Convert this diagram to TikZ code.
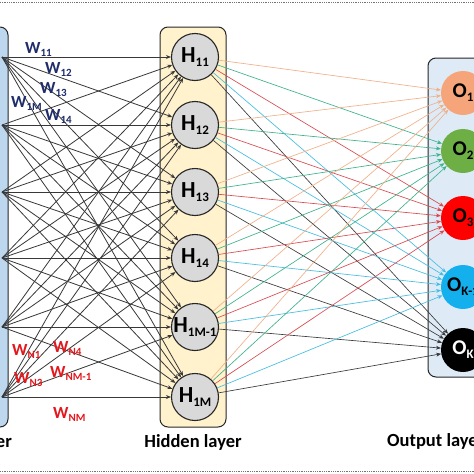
\documentclass[tikz,border=0pt]{standalone}
\usepackage{fontspec}
\setmainfont{Carlito}
\usetikzlibrary{arrows.meta}
\definecolor{inblue}{HTML}{BDD7EE}
\definecolor{hidyel}{HTML}{FFF2CC}
\definecolor{outbg}{HTML}{DEEBF7}
\definecolor{hidgray}{HTML}{D9D9D9}
\definecolor{o1c}{HTML}{F6A57A}
\definecolor{o2c}{HTML}{6DAF45}
\definecolor{o3c}{HTML}{FF0000}
\definecolor{o4c}{HTML}{14B0EE}
\definecolor{o5c}{HTML}{000000}
\definecolor{e1}{HTML}{F0B08A}
\definecolor{e2}{HTML}{3DB38A}
\definecolor{e3}{HTML}{D94A50}
\definecolor{e4}{HTML}{45BDE0}
\definecolor{e5}{HTML}{3A3A3A}
\definecolor{wnavy}{HTML}{1F2D6B}
\definecolor{wred}{HTML}{E3171C}
\newcommand{\hsb}[1]{\raisebox{-4pt}{\fontsize{13}{13}\selectfont #1}}
\newcommand{\osb}[1]{\raisebox{-4pt}{\fontsize{13}{13}\selectfont #1}}
\newcommand{\wsb}[1]{\raisebox{-3.5pt}{\fontsize{11}{11}\selectfont #1}}
\begin{document}
\begin{tikzpicture}[x=1pt,y=-1pt,
  hid/.style={circle, draw=black!85, line width=1.1pt, fill=hidgray, minimum size=47pt, inner sep=0pt, font=\bfseries\fontsize{23}{23}\selectfont},
  outn/.style={circle, minimum size=44pt, inner sep=0pt, font=\bfseries\fontsize{21}{21}\selectfont},
  layerbox/.style={draw=black!85, line width=1pt, rounded corners=8pt},
  ihedge/.style={draw=black!78, line width=0.8pt, -{Stealth[length=5pt,width=4pt]}},
  hoedge/.style={line width=0.65pt, -{Stealth[length=5pt,width=4pt]}},
  lab/.style={font=\bfseries\fontsize{18.5}{18.5}\selectfont, inner sep=0pt},
  wlab/.style={font=\bfseries\fontsize{17}{17}\selectfont, inner sep=0pt, anchor=base west},
  frame/.style={draw=black!55, densely dotted, line width=0.8pt}
]
\useasboundingbox (0,0) rectangle (474,474);
\clip (0,0) rectangle (474,474);
\fill[white] (0,0) rectangle (474,474);
\draw[frame] (0,2) -- (474,2);
\draw[frame] (0,471) -- (474,471);
% layer boxes
\draw[layerbox, fill=inblue] (-40,27) rectangle (8,427);
\draw[layerbox, fill=hidyel] (160,27) rectangle (226,427);
\draw[layerbox, fill=outbg] (428,58) rectangle (500,377);
% input coordinates and hidden nodes
\foreach \y/\l [count=\i] in {57/11,125/12,192/13,258/14,327/1M-1,397/1M} {
  \coordinate (in\i) at (2,\y);
  \node[hid] (h\i) at (195,\y) {H\hsb{\l}};
}
% output nodes
\node[outn, fill=o1c, text=black] (o1) at (463,93) {O\osb{1}};
\node[outn, fill=o2c, text=black] (o2) at (463,151) {O\osb{2}};
\node[outn, fill=o3c, text=black] (o3) at (463,218) {O\osb{3}};
\node[outn, fill=o4c, text=black] (o4) at (463,287) {O\osb{K-1}};
\node[outn, fill=o5c, text=white] (o5) at (463,350) {O\osb{K}};
% edges
\foreach \i in {1,...,6} {
  \foreach \j in {1,...,6} {
    \draw[ihedge] (in\i) -- (h\j);
  }
}
\foreach \i in {1,...,6} {
  \foreach \k in {1,...,5} {
    \draw[hoedge, color=e\k] (h\i) -- (o\k);
  }
}
% weight labels
\node[wlab, text=wnavy] (w11) at (25,53) {W\wsb{11}};
\node[wlab, text=wnavy] (w12) at (45,73) {W\wsb{12}};
\node[wlab, text=wnavy] (w13) at (40,93) {W\wsb{13}};
\node[wlab, text=wnavy] (w1m) at (11,107) {W\wsb{1M}};
\node[wlab, text=wnavy] (w14) at (45,120) {W\wsb{14}};
\node[wlab, text=wred] (wn1) at (12,355) {W\wsb{N1}};
\node[wlab, text=wred] (wn4) at (53,352) {W\wsb{N4}};
\node[wlab, text=wred] (wn3) at (14,383) {W\wsb{N3}};
\node[wlab, text=wred] (wnm1) at (50,377) {W\wsb{NM-1}};
\node[wlab, text=wred] (wnm) at (53,418) {W\wsb{NM}};
% layer labels
\node[lab, anchor=east] (inlab) at (12,442) {Input layer};
\node[lab] (hidlab) at (193,442) {Hidden layer};
\node[lab, anchor=west] (outlab) at (387,441) {Output layer};
\end{tikzpicture}
\end{document}
